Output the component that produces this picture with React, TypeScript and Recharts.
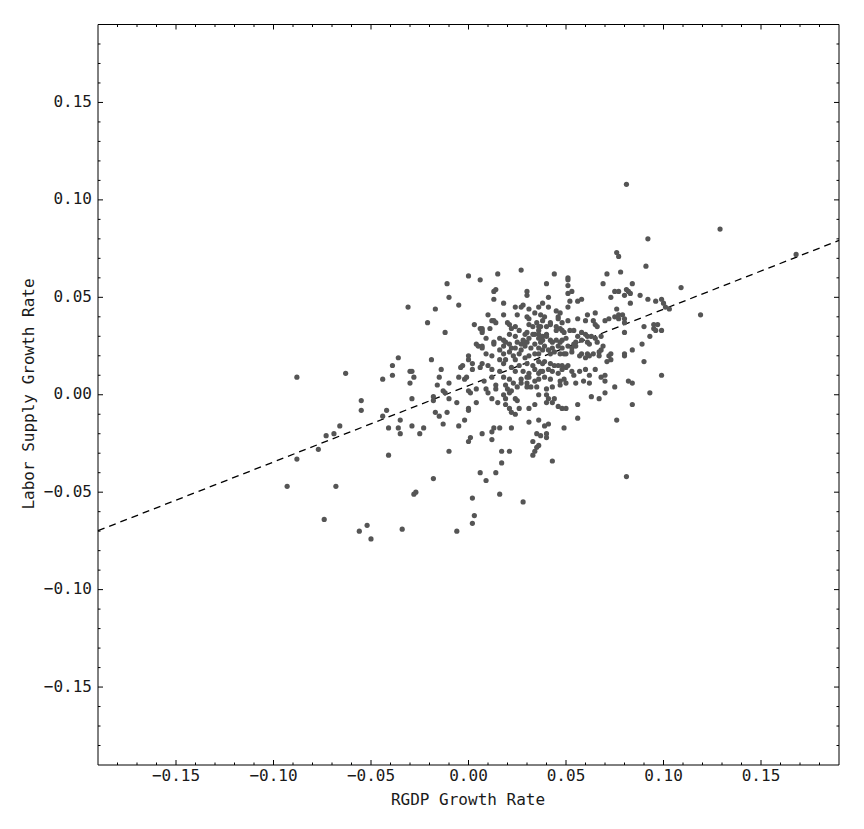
import React from "react";
import { ScatterChart, Scatter, XAxis, YAxis, ReferenceLine } from "recharts";

// points, grouped by region of the plot
const leftTail: [number, number][] = [
  [-0.088, 0.009], [-0.063, 0.011], [-0.036, 0.019], [-0.039, 0.015], [-0.039, 0.010], [-0.044, 0.008],
  [-0.030, 0.012], [-0.029, 0.012], [-0.028, 0.009], [-0.030, 0.006], [-0.019, 0.018], [-0.014, 0.013],
  [-0.015, 0.009], [-0.016, 0.005], [-0.010, 0.006], [-0.013, 0.002], [-0.012, 0.001], [-0.018, -0.001],
  [-0.018, -0.003], [-0.010, -0.002], [-0.029, -0.002], [-0.055, -0.003], [-0.055, -0.008], [-0.042, -0.008],
  [-0.044, -0.011], [-0.035, -0.013], [-0.017, -0.009], [-0.011, -0.009], [-0.015, -0.011], [-0.013, -0.015],
  [-0.029, -0.016], [-0.023, -0.017], [-0.025, -0.020], [-0.041, -0.017], [-0.036, -0.017], [-0.035, -0.020],
  [-0.066, -0.016], [-0.069, -0.020], [-0.073, -0.021], [-0.077, -0.028], [-0.088, -0.033], [-0.041, -0.031],
  [-0.010, -0.029], [-0.093, -0.047], [-0.068, -0.047], [-0.018, -0.043], [-0.027, -0.050], [-0.028, -0.051],
  [-0.074, -0.064], [-0.052, -0.067], [-0.056, -0.070], [-0.050, -0.074], [-0.034, -0.069], [-0.031, 0.045],
  [-0.017, 0.044], [-0.021, 0.037],
];

const upperCluster: [number, number][] = [
  [-0.011, 0.057], [-0.010, 0.050], [-0.005, 0.046], [0.000, 0.061], [0.006, 0.059], [0.015, 0.062],
  [0.027, 0.064], [0.040, 0.057], [0.014, 0.054], [0.013, 0.053], [0.013, 0.049], [0.018, 0.047],
  [0.030, 0.053], [0.030, 0.051], [0.028, 0.046], [0.027, 0.045], [0.024, 0.045], [0.031, 0.044],
  [0.036, 0.045], [0.038, 0.047], [0.041, 0.045], [0.034, 0.042], [0.037, 0.041], [0.039, 0.040],
  [0.010, 0.041], [0.018, 0.041], [0.025, 0.041], [0.030, 0.040], [0.031, 0.039], [0.012, 0.038],
  [0.014, 0.037], [0.003, 0.036], [-0.012, 0.032], [0.006, 0.034], [0.007, 0.032], [0.011, 0.034],
  [0.021, 0.036], [0.022, 0.034], [0.024, 0.035], [0.026, 0.033], [0.021, 0.031], [0.024, 0.030],
  [0.031, 0.036], [0.033, 0.035], [0.036, 0.035], [0.037, 0.035], [0.040, 0.035], [0.029, 0.031],
  [0.030, 0.032], [0.033, 0.031], [0.036, 0.031], [0.038, 0.030], [0.040, 0.031], [0.009, 0.029],
  [0.004, 0.026], [0.005, 0.025], [0.007, 0.025], [0.013, 0.027], [0.013, 0.026], [0.016, 0.029],
  [0.018, 0.028], [0.019, 0.027], [0.021, 0.026], [0.022, 0.024], [0.025, 0.027], [0.027, 0.026],
  [0.029, 0.027], [0.000, 0.020], [0.012, 0.020],
];

const upperRight: [number, number][] = [
  [0.077, 0.071], [0.091, 0.066], [0.078, 0.063], [0.071, 0.062], [0.051, 0.060], [0.051, 0.059],
  [0.044, 0.062], [0.069, 0.057], [0.084, 0.057], [0.051, 0.056], [0.081, 0.054], [0.082, 0.053],
  [0.075, 0.053], [0.077, 0.053], [0.053, 0.053], [0.051, 0.052], [0.080, 0.051], [0.083, 0.052],
  [0.073, 0.050], [0.088, 0.051], [0.041, 0.050], [0.058, 0.049], [0.056, 0.048], [0.052, 0.048],
  [0.092, 0.049], [0.096, 0.048], [0.099, 0.049], [0.083, 0.047], [0.051, 0.045], [0.076, 0.044],
  [0.045, 0.043], [0.047, 0.042], [0.046, 0.040], [0.061, 0.041], [0.065, 0.042], [0.056, 0.039],
  [0.077, 0.041], [0.079, 0.041], [0.075, 0.040], [0.077, 0.039], [0.080, 0.039], [0.072, 0.039],
  [0.070, 0.038], [0.051, 0.038], [0.060, 0.038], [0.064, 0.038], [0.065, 0.036], [0.066, 0.035],
  [0.042, 0.037], [0.042, 0.036], [0.045, 0.035], [0.080, 0.037], [0.090, 0.035], [0.095, 0.036],
  [0.095, 0.034], [0.099, 0.033], [0.048, 0.033], [0.049, 0.032], [0.052, 0.033], [0.054, 0.033],
  [0.058, 0.032], [0.060, 0.031], [0.061, 0.030], [0.056, 0.030], [0.063, 0.030], [0.080, 0.032],
  [0.093, 0.030], [0.048, 0.028], [0.050, 0.029], [0.055, 0.027], [0.058, 0.028], [0.061, 0.027],
  [0.062, 0.026], [0.066, 0.027], [0.069, 0.025], [0.089, 0.026], [0.084, 0.023], [0.053, 0.024],
  [0.055, 0.025], [0.073, 0.021], [0.080, 0.021], [0.067, 0.022], [0.061, 0.021], [0.058, 0.021],
  [0.049, 0.021],
];

const core: [number, number][] = [
  [0.013, 0.038], [0.007, 0.034], [0.007, 0.033], [0.020, 0.037], [0.035, 0.037], [0.036, 0.033],
  [0.018, 0.025], [0.016, 0.023], [0.024, 0.024], [0.027, 0.023], [0.029, 0.025], [0.030, 0.027],
  [0.032, 0.024], [0.034, 0.026], [0.036, 0.024], [0.037, 0.027], [0.038, 0.023], [0.028, 0.028],
  [0.031, 0.029], [0.034, 0.031], [0.036, 0.029], [0.007, 0.024], [0.009, 0.021], [0.018, 0.021],
  [0.021, 0.022], [0.016, 0.018], [0.018, 0.016], [0.019, 0.018], [0.023, 0.020], [0.024, 0.018],
  [0.026, 0.021], [0.029, 0.019], [0.031, 0.020], [0.034, 0.021], [0.036, 0.021], [0.030, 0.016],
  [0.033, 0.015], [0.036, 0.017], [0.038, 0.016], [0.007, 0.016], [0.010, 0.015], [0.012, 0.013],
  [0.016, 0.012], [0.022, 0.014], [0.024, 0.012], [0.026, 0.015], [0.028, 0.012], [0.030, 0.009],
  [0.031, 0.011], [0.034, 0.013], [0.036, 0.011], [0.037, 0.012], [0.008, 0.007], [0.012, 0.009],
  [0.018, 0.009], [0.021, 0.008], [0.023, 0.006], [0.027, 0.008], [0.030, 0.006], [0.031, 0.009],
  [0.034, 0.007], [0.036, 0.008], [0.014, 0.005], [0.038, 0.038], [0.046, 0.039], [0.048, 0.037],
  [0.047, 0.034], [0.045, 0.033], [0.065, 0.029], [0.068, 0.030], [0.068, 0.023], [0.038, 0.028],
  [0.040, 0.030], [0.042, 0.028], [0.043, 0.027], [0.045, 0.028], [0.047, 0.027], [0.039, 0.025],
  [0.041, 0.023], [0.043, 0.024], [0.046, 0.025], [0.048, 0.024], [0.051, 0.025], [0.054, 0.026],
  [0.042, 0.021], [0.044, 0.022], [0.047, 0.021], [0.050, 0.021], [0.053, 0.022], [0.057, 0.020],
  [0.060, 0.019], [0.062, 0.020], [0.064, 0.021], [0.067, 0.020], [0.039, 0.017], [0.042, 0.016],
  [0.044, 0.015], [0.046, 0.015], [0.048, 0.015], [0.051, 0.015], [0.038, 0.012], [0.041, 0.013],
  [0.043, 0.012], [0.046, 0.011], [0.048, 0.013], [0.050, 0.014], [0.053, 0.012], [0.054, 0.010],
  [0.057, 0.012], [0.060, 0.013], [0.062, 0.010], [0.065, 0.013], [0.039, 0.009], [0.042, 0.008],
  [0.047, 0.007], [0.049, 0.008], [0.055, 0.006], [0.059, 0.007], [0.062, 0.006], [0.068, 0.009],
];

const lowerMid: [number, number][] = [
  [0.000, 0.018], [-0.003, 0.015], [-0.004, 0.014], [0.002, 0.016], [0.002, 0.013], [0.006, 0.014],
  [-0.005, 0.009], [-0.002, 0.008], [-0.001, 0.009], [0.000, 0.002], [0.001, 0.001], [0.004, 0.003],
  [0.009, 0.003], [0.010, 0.001], [0.014, 0.003], [0.012, -0.002], [0.019, 0.005], [0.020, 0.003],
  [0.021, 0.001], [0.022, 0.002], [0.018, 0.000], [0.019, -0.002], [0.025, 0.004], [0.027, 0.006],
  [0.030, 0.004], [0.032, 0.004], [0.035, 0.004], [0.024, -0.002], [0.025, -0.003], [0.036, 0.000],
  [0.040, 0.000], [0.041, -0.002], [-0.006, -0.004], [0.004, -0.004], [0.015, -0.004], [0.019, -0.005],
  [0.021, -0.007], [0.022, -0.009], [0.024, -0.010], [0.026, -0.007], [0.031, -0.007], [0.034, -0.005],
  [0.040, -0.004], [0.000, -0.007], [0.000, -0.008], [-0.002, -0.013], [-0.005, -0.016], [0.031, -0.014],
  [0.036, -0.013], [0.041, -0.015], [0.007, -0.020], [0.012, -0.019], [0.013, -0.017], [0.016, -0.017],
  [0.022, -0.017], [0.012, -0.023], [0.001, -0.022], [0.000, -0.024], [0.035, -0.020], [0.037, -0.021],
  [0.040, -0.020], [0.033, -0.024], [0.035, -0.027], [0.036, -0.026],
];

const lowerRight: [number, number][] = [
  [0.072, 0.020], [0.071, 0.017], [0.073, 0.018], [0.080, 0.020], [0.090, 0.017], [0.070, 0.010],
  [0.070, 0.007], [0.075, 0.004], [0.082, 0.007], [0.084, 0.006], [0.099, 0.010], [0.070, 0.001],
  [0.063, -0.001], [0.067, -0.002], [0.093, 0.001], [0.084, -0.005], [0.056, -0.005], [0.044, -0.002],
  [0.043, -0.004], [0.046, -0.006], [0.048, -0.007], [0.050, -0.007], [0.056, -0.012], [0.076, -0.013],
  [0.049, -0.017], [0.039, -0.016], [0.040, -0.022], [0.040, 0.003], [0.043, 0.004], [0.047, 0.005],
  [0.050, 0.006],
];

const outliers: [number, number][] = [
  [0.081, 0.108], [0.129, 0.085], [0.092, 0.080], [0.076, 0.073], [0.109, 0.055], [0.100, 0.047],
  [0.101, 0.045], [0.103, 0.044], [0.119, 0.041], [0.097, 0.036], [0.096, 0.033], [0.168, 0.072],
  [0.017, -0.029], [0.021, -0.029], [0.034, -0.029], [0.033, -0.031], [0.017, -0.035], [0.043, -0.034],
  [0.006, -0.040], [0.014, -0.040], [0.009, -0.044], [0.002, -0.053], [0.016, -0.051], [0.028, -0.055],
  [0.003, -0.062], [0.002, -0.066], [-0.006, -0.070], [0.081, -0.042],
];

// fitted line y = a + b x
const fitIntercept = 0.0047;
const fitSlope = 0.392;

const axisMin = -0.19;
const axisMax = 0.19;
const majorTicks = [-0.15, -0.1, -0.05, 0, 0.05, 0.1, 0.15];
const allTicks = [
  -0.18, -0.17, -0.16, -0.15, -0.14, -0.13, -0.12, -0.11, -0.1, -0.09, -0.08, -0.07, -0.06, -0.05,
  -0.04, -0.03, -0.02, -0.01, 0, 0.01, 0.02, 0.03, 0.04, 0.05, 0.06, 0.07, 0.08, 0.09, 0.1, 0.11,
  0.12, 0.13, 0.14, 0.15, 0.16, 0.17, 0.18,
];

const points = [...leftTail, ...upperCluster, ...upperRight, ...core, ...lowerMid, ...lowerRight, ...outliers].map(
  ([x, y]) => ({ x, y })
);

const FONT = '"DejaVu Sans Mono", monospace';
const fmt = (v: number) => (v < 0 ? "\u2212" : "") + Math.abs(v).toFixed(2);
const isMajor = (v: number) => majorTicks.some((m) => Math.abs(m - v) < 1e-9);

function Tick(props: any) {
  const { x, y, payload, side } = props;
  const v = payload.value;
  const major = isMajor(v);
  const len = major ? 5 : 2.5;
  let line = null;
  let label = null;
  if (side === "bottom") {
    line = <line x1={x} x2={x} y1={y} y2={y - len} stroke="#000" />;
    if (major)
      label = (
        <text x={x} y={y + 10} dy="0.35em" textAnchor="middle" fontFamily={FONT} fontSize={16} fill="#1a1a1a">
          {fmt(v)}
        </text>
      );
  } else if (side === "top") {
    line = <line x1={x} x2={x} y1={y} y2={y + len} stroke="#000" />;
  } else if (side === "left") {
    line = <line x1={x} x2={x + len} y1={y} y2={y} stroke="#000" />;
    if (major)
      label = (
        <text x={x - 6} y={y - 1} dy="0.35em" textAnchor="end" fontFamily={FONT} fontSize={16} fill="#1a1a1a">
          {fmt(v)}
        </text>
      );
  } else {
    line = <line x1={x} x2={x - len} y1={y} y2={y} stroke="#000" />;
  }
  return (
    <g>
      {line}
      {label}
    </g>
  );
}

const Dot = (p: any) => <circle cx={p.cx} cy={p.cy} r={2.6} fill="#555555" />;

export default function App() {
  return (
    <div style={{ position: "relative", width: 848, height: 813, background: "#fff" }}>
      <ScatterChart width={848} height={813} margin={{ top: 15.5, right: 16, left: 10, bottom: 6 }}>
        <XAxis
          xAxisId="b"
          dataKey="x"
          type="number"
          domain={[axisMin, axisMax]}
          allowDataOverflow
          ticks={allTicks}
          interval={0}
          height={50}
          tickSize={0}
          tickMargin={0}
          tickLine={false}
          axisLine={{ stroke: "#000" }}
          tick={<Tick side="bottom" />}
        />
        <XAxis
          xAxisId="t"
          dataKey="x"
          orientation="top"
          type="number"
          domain={[axisMin, axisMax]}
          allowDataOverflow
          ticks={allTicks}
          interval={0}
          height={1}
          tickSize={0}
          tickMargin={0}
          tickLine={false}
          axisLine={{ stroke: "#000" }}
          tick={<Tick side="top" />}
        />
        <YAxis
          yAxisId="l"
          dataKey="y"
          type="number"
          domain={[axisMin, axisMax]}
          allowDataOverflow
          ticks={allTicks}
          interval={0}
          width={80}
          tickSize={0}
          tickMargin={0}
          tickLine={false}
          axisLine={{ stroke: "#000" }}
          tick={<Tick side="left" />}
        />
        <YAxis
          yAxisId="r"
          dataKey="y"
          orientation="right"
          type="number"
          domain={[axisMin, axisMax]}
          allowDataOverflow
          ticks={allTicks}
          interval={0}
          width={1}
          tickSize={0}
          tickMargin={0}
          tickLine={false}
          axisLine={{ stroke: "#000" }}
          tick={<Tick side="right" />}
        />
        <Scatter xAxisId="b" yAxisId="l" data={points} shape={Dot} isAnimationActive={false} />
        <Scatter xAxisId="t" yAxisId="r" data={points} shape={() => <g />} isAnimationActive={false} />
        <ReferenceLine
          xAxisId="b"
          yAxisId="l"
          segment={[
            { x: axisMin, y: fitIntercept + fitSlope * axisMin },
            { x: axisMax, y: fitIntercept + fitSlope * axisMax },
          ]}
          stroke="#000"
          strokeWidth={1.3}
          strokeDasharray="7 5"
        />
      </ScatterChart>
      <div
        style={{
          position: "absolute",
          left: 20,
          top: 386,
          transform: "translate(-50%, -50%) rotate(-90deg)",
          whiteSpace: "nowrap",
          fontFamily: FONT,
          fontSize: 16,
          color: "#1a1a1a",
        }}
      >
        Labor Supply Growth Rate
      </div>
      <div
        style={{
          position: "absolute",
          left: 460,
          top: 791,
          transform: "translate(-50%, -50%)",
          whiteSpace: "nowrap",
          fontFamily: FONT,
          fontSize: 16,
          color: "#1a1a1a",
        }}
      >
        RGDP Growth Rate
      </div>
    </div>
  );
}
